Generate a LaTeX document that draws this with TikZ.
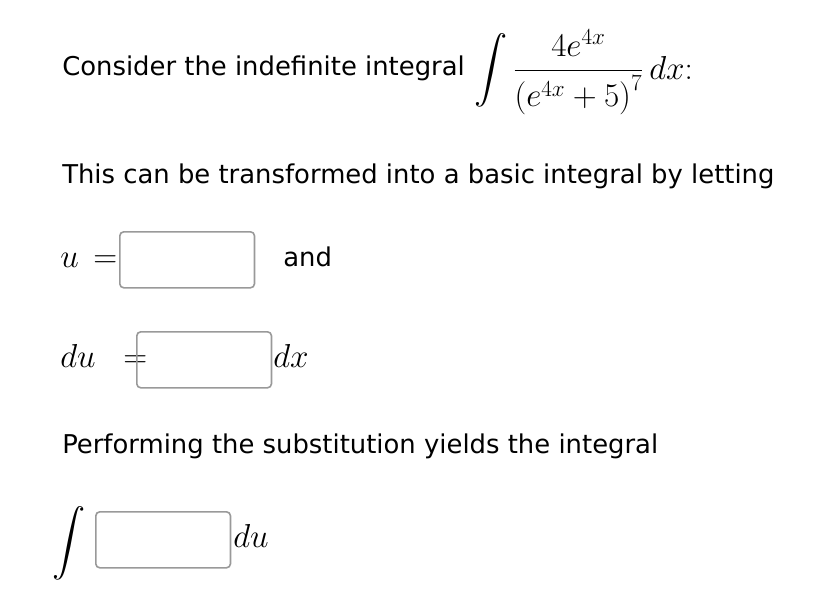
\documentclass[tikz,border=0pt]{standalone}
\usepackage{amsmath}
\usepackage{fontspec}
\setmainfont{DejaVu Sans}
\begin{document}
\begin{tikzpicture}[x=0.75pt,y=-0.75pt,
  txt/.style={anchor=base west,inner sep=0pt,font=\fontsize{19.4}{23}\selectfont},
  mth/.style={anchor=base west,inner sep=0pt,font=\fontsize{26}{30}\selectfont},
  ansbox/.style={draw=gray!80,line width=1.2pt,rounded corners=3pt,minimum width=101pt,minimum height=42pt,inner sep=0pt,anchor=north west}]
\useasboundingbox (0,0) rectangle (820,601);
\node[txt] (t1) at (62,75) {Consider the indefinite integral};
\node[mth] (int1) at (474,79) {$\displaystyle\int \frac{4e^{4x}}{\left(e^{4x}+5\right)^{7}}\,dx{:}$};
\node[txt] (t2) at (62,183) {This can be transformed into a basic integral by letting};
\node[mth] (u) at (60,267) {$u\,=$};
\node[ansbox] (b1) at (119,231) {};
\node[txt] (and) at (283,266) {and};
\node[mth] (du) at (60,367) {$du\;\;=$};
\node[ansbox] (b2) at (136,331) {};
\node[mth] (dx) at (273,367) {$dx$};
\node[txt] (t3) at (62,453) {Performing the substitution yields the integral};
\node[mth] (int2) at (52,552) {$\displaystyle\int$};
\node[ansbox] (b3) at (95,511) {};
\node[mth] (du2) at (233,547) {$du$};
\end{tikzpicture}
\end{document}
